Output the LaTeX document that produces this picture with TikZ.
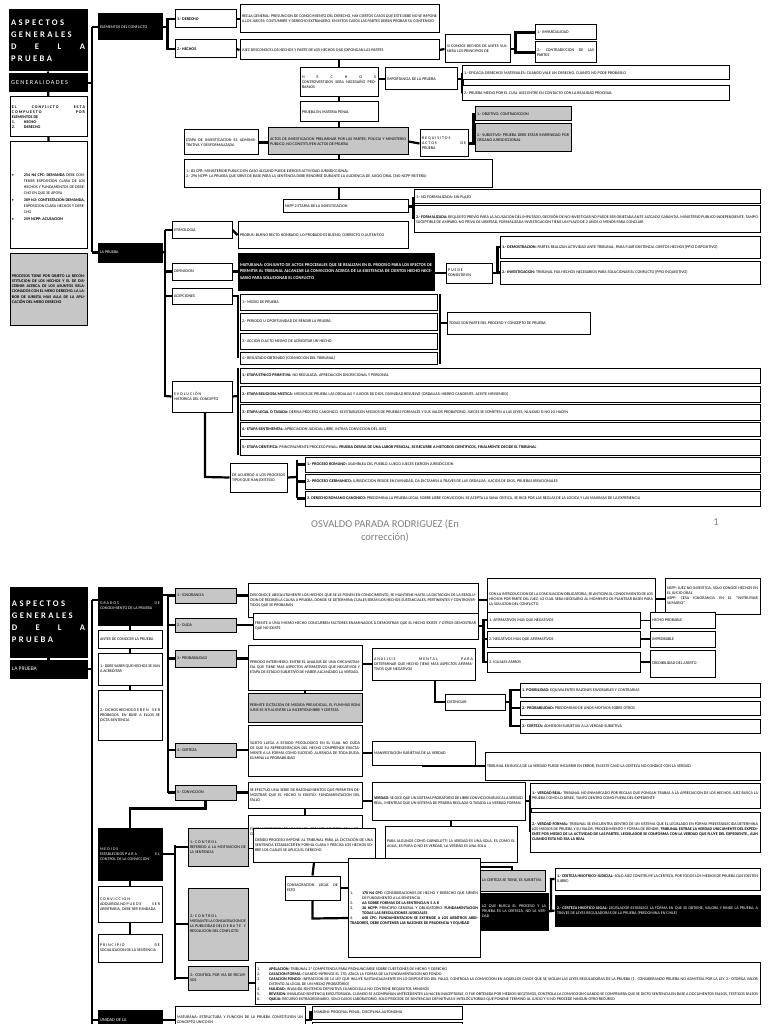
\documentclass[tikz,border=0pt]{standalone}
\usepackage{fontspec}
\setmainfont{Carlito}
\pgfdeclarelayer{back}\pgfdeclarelayer{bg}
\pgfsetlayers{back,bg,main}
\newcommand\itm[2]{\par\noindent\hangindent=12pt\hangafter=1\makebox[12pt][l]{#1}#2}
\newcommand\ttl{\addfontfeatures{LetterSpace=28}ASPECTOS\\ GENERALES\\ D\hfill E\hfill L\hfill A\\ PRUEBA}
\begin{document}
\begin{tikzpicture}[x=1pt,y=-1pt,
 box/.style={draw,line width=1pt,fill=white,inner xsep=2pt,inner ysep=1pt,align=justify,font=\fontsize{4.1}{5}\selectfont},
 blk/.style={fill=black,text=white},
 gry/.style={fill=gray!45},
 big/.style={font=\fontsize{8.6}{12}\selectfont\bfseries,align=left},
 cn/.style={line width=2.2pt,black}]
\useasboundingbox (0,0) rectangle (768,1024);
\begin{pgfonlayer}{back}\fill[white] (0,0) rectangle (768,1024);\end{pgfonlayer}
\newcommand\bx[7][]{\pgfmathsetmacro\bw{#5-#3}\pgfmathsetmacro\bh{#6-#4}\pgfmathsetmacro\tw{#5-#3-4}%
 \node[box,#1,minimum width=\bw pt,minimum height=\bh pt,text width=\tw pt] (#2) at ({(#3+#5)/2},{(#4+#6)/2}) {#7};}
\newcommand\lr[2]{\draw[cn] (#1.east) -- ++(5,0) |- (#2.west);}
\newcommand\tb[2]{\draw[cn] (#1.south) -- (#1.south |- #2.north);}
% PAGE 1 boxes
\bx[blk,big]{t1}{9}{10}{87}{71}{\ttl}
\bx[blk,font=\fontsize{6.2}{7}\selectfont\addfontfeatures{LetterSpace=20}]{gen}{9}{74}{87}{92}{GENERALIDADES}
\bx[font=\fontsize{4.1}{5}\selectfont\bfseries]{conf}{10}{97}{87}{137}{E L \hfill C O N F L I C T O \hfill E S T A\\ C O M P U E S T O \hfill P O R\\ ELEMENTOS DE\itm{1.}{HECHO}\itm{2.}{DERECHO}}
\bx[font=\fontsize{4.1}{6.3}\selectfont]{art}{10}{142}{87}{248}{\itm{•}{\textbf{254 N4 CPC: DEMANDA} DEBE CONTENER EXPOSICION CLARA DE LOS HECHOS Y FUNDAMENTOS DE DERECHO EN QUE SE APOYA}\itm{•}{\textbf{309 N3: CONTESTACION DEMANDA,} EXPOSICION CLARA HECHOS Y DERECHO}\itm{•}{\textbf{259 NCPP: ACUSACION}}}
\bx[gry,font=\fontsize{4.1}{5.3}\selectfont\bfseries]{proc}{10}{253}{87}{325}{PROCESOS TIENE POR OBJETO LA RECONSTITUCION DE LOS HECHOS Y EL DE DISCERNIR ACERCA DE LOS ASUNTOS RELACIONADOS CON EL MERO DERECHO, LA LABOR DE JURISTA MAS ALLA DE LA APLICACIÓN DEL MERO DERECHO}
\bx[blk]{elem}{98}{14}{162}{40}{ELEMENTOS DEL CONFLICTO}
\bx[blk]{lap}{98}{243}{162}{262}{LA PRUEBA}
\bx{der}{175}{10}{236}{28}{\textbf{1.- DERECHO}}
\bx{hec}{175}{40}{236}{58}{\textbf{2.- HECHOS}}
\bx{regla}{240}{5}{439}{33}{REGLA GENERAL: PRESUNCION DE CONOCIMIENTO DEL DERECHO, HAY CIERTOS CASOS QUE ESTE DEBE NO SE IMPONE A LOS JUECES: COSTUMBRE Y DERECHO EXTRANJERO, EN ESTOS CASOS LAS PARTES DEBEN PROBAR SU CONTENIDO}
\bx{juez}{240}{40}{439}{60}{JUEZ DESCONOCE LOS HECHOS Y PARTE DE LOS HECHOS QUE EXPONGAN LAS PARTES}
\bx{sic}{445}{35}{510}{63}{SI CONOCE HECHOS DE ANTES VULNERA LOS PRINCIPIOS DE}
\bx{imp}{535}{25}{596}{40}{1.- IMPARCIALIDAD}
\bx{con}{535}{42}{596}{63}{2.- CONTRADICCION DE LAS PARTES}
\bx{hcon}{300}{68}{378}{97}{H \hfill E \hfill C \hfill H \hfill O \hfill S\\ CONTROVERTIDOS SERA NECESARIO PROBARLOS}
\bx{impo}{385}{68}{457}{90}{IMPORTANCIA DE LA PRUEBA}
\bx{efi}{462}{66}{729}{80}{1.- EFICACIA DERECHOS MATERIALES: CUANDO VALE UN DERECHO, CUANTO NO PODE PROBARLO}
\bx{med}{462}{86}{729}{101}{2.- PRUEBA MEDIO POR EL CUAL JUEZ ENTRE EN CONTACTO CON LA REALIDAD PROCESAL}
\bx{pmp}{300}{102}{378}{122}{PRUEBA EN MATERIA PENAL}
\bx{etapa}{184}{130}{258}{155}{ETAPA DE INVESTIGACION ES ADMINISTRATIVA Y DESFORMALIZADA}
\bx[gry]{actos}{268}{128}{408}{155}{ACTOS DE INVESTIGACION PRELIMINAR POR LAS PARTES, POLICIA Y MINISTERIO PUBLICO, NO CONSTITUYEN ACTOS DE PRUEBA}
\bx{req}{420}{130}{468}{157}{R E Q U I S I T O S\\ A C T O S \hfill D E\\ PRUEBA}
\bx[gry]{obj}{475}{107}{571}{121}{1.- OBJETIVO: CONTRADICCION}
\bx[gry]{sub}{475}{124}{571}{152}{2.- SUBJETIVO: PRUEBA DEBE ESTAR INVERNIDAD POR ORGANO JURISDICCIONAL}
\bx{cpr}{184}{160}{492}{188}{1.- 83 CPR: MINISTERIOR PUBLICO EN CASO ALGUNO PUEDE EJERCER ACTIVIDAD JURISDICCIONAL\\ 2.- 296 NCPP: LA PRUEBA QUE SIRVE DE BASE PARA LA SENTENCIA DEBE RENDIRSE DURANTE LA AUDIENCIA DE JUICIO ORAL (340 NCPP REITERA)}
\bx{nspp}{283}{200}{408}{213}{NSPP 2 ETAPAS DE LA INVESTIGACION}
\bx{nof}{414}{190}{760}{204}{1.- NO FORMALIZADA: SIN PLAZO}
\bx{for}{414}{206}{760}{233}{\textbf{2.- FORMALIZADA:} REQUISITO PREVIO PARA LA ACUSACION DEL IMPUTADO, DECISIÓN DE NO INVESTIGAR NO PUEDE SER OBJETADA ANTE JUZGADO GARANTIA, MINISTERIO PUBLICO INDEPENDIENTE, TAMPO SUCEPTIBLE DE AMPARO, NO PRIVA DE LIBERTAD, FORMALIZADA INVESTIGACION TIENE UN PLAZO DE 2 AÑOS O MENOS PARA CONCLUIR}
\bx{eti}{172}{222}{232}{238}{ETIMOLOGIA}
\bx{probus}{238}{222}{408}{248}{PROBUS: BUENO RECTO HONRADO, LO PROBADO ES BUENO, CORRECTO O AUTENTICO}
\bx{def}{172}{263}{232}{280}{DEFINICION}
\bx[blk,font=\fontsize{4.4}{6.6}\selectfont\bfseries]{mat}{238}{253}{434}{290}{MATURANA: CONJUNTO DE ACTOS PROCESALES QUE SE REALIZAN EN EL PROCESO PARA LOS EFECTOS DE PERMITIR AL TRIBUNAL ALCANZAR LA CONVICCION ACERCA DE LA EXISTENCIA DE CIERTOS HECHO NECESARIO PARA SOLUCIONAR EL CONFLICTO}
\bx{puede}{446}{263}{492}{283}{P U E D E\\ CONSISTIR EN}
\bx{dem}{500}{236}{760}{258}{\textbf{1.- DEMOSTRACION:} PARTES REALIZAN ACTIVIDAD ANTE TRIBUNAL, PARA FIJAR EXISTENCIA CIERTOS HECHOS (PPIO DISPOSITIVO)}
\bx{inv}{500}{261}{760}{284}{\textbf{2.- INVESTIGACION:} TRIBUNAL FIJA HECHOS NECESARIOS PARA SOLUCIONAR EL CONFLICTO (PPIO INQUISITIVO)}
\bx{acep}{172}{288}{232}{304}{ACEPCIONES}
\bx{a1}{240}{294}{437}{310}{1.- MEDIO DE PRUEBA}
\bx{a2}{240}{313}{437}{330}{2.- PERIODO U OPORTUNIDAD DE RENDIR LA PRUEBA}
\bx{a3}{240}{333}{437}{349}{3.- ACCION O ACTO MISMO DE ACREDITAR UN HECHO}
\bx{a4}{240}{352}{437}{364}{4.- RESULTADO OBTENIDO (CONVICCION DEL TRIBUNAL)}
\bx{todas}{447}{312}{590}{334}{TODAS SON PARTE DEL PROCESO Y CONCEPTO DE PRUEBA}
\bx{evo}{172}{381}{232}{412}{E V O L U C I Ó N\\ HISTORICA DEL CONCEPTO}
\bx{e1}{240}{368}{760}{383}{\textbf{1.- ETAPA ETNICO PRIMITIVA:} NO REGULADA, APRECIACION DISCRECIONAL Y PERSONAL}
\bx{e2}{240}{386}{760}{402}{\textbf{2.- ETAPA RELIGIOSA MISTICA:} MEDIOS DE PRUEBA LAS ORDALIAS Y JUICIOS DE DIOS, DIVINIDAD RESUELVE (ORDALIAS: HIERRO CANDENTE, ACEITE HIRVIENDO)}
\bx{e3}{240}{404}{760}{420}{\textbf{3.- ETAPA LEGAL O TASADA:} DERIVA PROCESO CANONICO, SE ESTABLECEN MEDIOS DE PRUEBAS FORMALES Y SUS VALOR PROBATORIO, JUECES SE SOMETEN A LAS LEYES, NULIDAD SI NO LO HACEN}
\bx{e4}{240}{422}{760}{436}{\textbf{4.- ETAPA SENTIMENTAL:} APRECIACION JUDICIAL LIBRE, INTIMA CONVICCION DEL JUEZ}
\bx{e5}{240}{439}{760}{455}{\textbf{5.- ETAPA CIENTIFICA:} PRINCIPALMENTE PROCESO PENAL: \textbf{PRUEBA DERIVA DE UNA LABOR PERICIAL, SE RECURRE A METODOS CIENTIFICOS, FINALMENTE DECIDE EL TRIBUNAL}}
\bx{acu}{230}{463}{287}{492}{DE ACUERDO A LOS PROCESOS TIPOS QUE HAN EXISTIDO}
\bx{p1}{305}{457}{760}{472}{\textbf{1.- PROCESO ROMANO:} ASAMBLEA DEL PUEBLO, LUEGO JUECES EJERCEN JURISDICCION}
\bx{p2}{305}{474}{760}{489}{\textbf{2.- PROCESO GERMANICO:} JURISDICCION RESIDE EN DIVINIDAD, DA DICTAMEN A TRAVES DE LAS ORDALIAS, JUICIOS DE DIOS, PRUEBAS IRRACIONALES}
\bx{p3}{305}{491}{760}{506}{\textbf{3. DERECHO ROMANO CANONICO:} PREDOMINA LA PRUEBA LEGAL SOBRE LIBRE CONVICCION, SE ACEPTA LA SANA CRITICA, SE RIGE POR LAS REGLAS DE LA LOGICA Y LAS MAXIMAS DE LA EXPERIENCIA}
\node[text=gray,font=\fontsize{10.5}{12.5}\selectfont,align=center] (foot) at (385,531) {OSVALDO PARADA RODRIGUEZ (En\\ corrección)};
\node[text=gray,font=\fontsize{10.5}{12}\selectfont] (pg) at (716,522) {1};
% PAGE 2 boxes
\bx[blk,big]{t2}{10}{587}{87}{657}{\ttl}
\bx[blk,font=\fontsize{5.5}{7}\selectfont]{lap2}{10}{660}{87}{678}{LA PRUEBA}
\bx[blk]{grados}{98}{587}{162}{625}{G R A D O S \hfill D E\\ CONOCIMIENTO DE LA PRUEBA}
\bx{antes}{98}{630}{162}{648}{ANTES DE CONOCER LA PRUEBA}
\bx{debe}{98}{653}{162}{685}{1.- DEBE SABER QUE HECHOS SE VAN A ACREDITAR}
\bx{dichos}{98}{690}{162}{740}{2.- DICHOS HECHOS D E B E N \hfill S E R\\ PROBADOS, EN BASE A ELLOS SE DICTA SENTENCIA}
\bx[gry]{ign}{175}{588}{236}{603}{1.- IGNORANCIA}
\bx[gry]{duda}{175}{618}{236}{632}{2.- DUDA}
\bx[gry]{prob}{175}{650}{236}{667}{3.- PROBABILIDAD}
\bx[gry]{cert}{175}{743}{236}{757}{4.- CERTEZA}
\bx[gry]{conv}{175}{785}{236}{800}{5.- CONVICCION}
\bx{desc}{248}{583}{478}{617}{DESCONOCE ABSOLUTAMENTE LOS HECHOS QUE SE LE PONEN EN CONOCIMIENTO, SE MANTIENE HASTA LA DICTACION DE LA RESOLUCION DE RECIBIR LA CAUSA A PRUEBA, DONDE SE DETERMINA CUALES SERAN LOS HECHOS SUSTANCIALES, PERTINENTES Y CONTROVERTIDOS QUE SE PROBARAN}
\bx{intro}{487}{578}{655}{620}{CON LA INTRODUCCION DE LA CONCILIACION OBLIGATORIA, SE ANTICIPA EL CONOCIMIENTO DE LOS HECHOS POR PARTE DEL JUEZ, LO CUAL SERA NECESARIO AL MOMENTO DE PLANTEAR BASES PARA LA SOLUCION DEL CONFLICTO}
\bx{nsp2}{665}{578}{760}{614}{NSPP: JUEZ NO INVESTIGA, SOLO CONOCE HECHOS EN EL JUICIO ORAL\\ ASPP: CESA IGNORANCIA EN EL ``INSTRUYASE SUMARIO''}
\bx{frente}{253}{613}{478}{639}{FRENTE A UNA MISMO HECHO CONCURREN FACTORES ENAMINADOS A DEMOSTRAR QUE EL HECHO EXISTE Y OTROS DEMOSTRAR QUE NO EXISTE}
\bx{af}{487}{612}{640}{628}{1. AFIRMATIVOS MAS QUE NEGATIVOS}
\bx{ne}{487}{631}{640}{647}{2. NEGATIVOS MAS QUE AFIRMATIVOS}
\bx{ig}{487}{652}{640}{672}{3. IGUALES AMBOS}
\bx{hp}{650}{612}{715}{628}{HECHO PROBABLE}
\bx{impr}{650}{631}{715}{647}{IMPROBABLE}
\bx{cred}{650}{650}{715}{677}{CREDIBILIDAD DEL ASERTO}
\bx{per}{248}{645}{362}{690}{PERIODO INTERMEDIO, ENTRE EL ANALISIS DE UNA CIRCUNSTANCIA QUE TIENE MAS ASPECTOS AFIRMATIVOS QUE NEGATIVOS Y ETAPA DE ESTADO SUBJETIVO DE HABER ALCANZADO LA VERDAD.}
\bx{anal}{372}{648}{475}{680}{A N A L I S I S \hfill M E N T A L \hfill P A R A\\ DETERMINAR QUE HECHO TIENE MAS ASPECTOS AFIRMATIVOS QUE NEGATIVOS}
\bx[gry]{permite}{248}{693}{362}{722}{PERMITE DICTACION DE MEDIDA PREJUDICIAL, EL FUMMUS BONI IURIS SE SITUA ENTRE LA INCERTIDUMBRE Y CERTEZA}
\bx{dist}{445}{694}{505}{710}{DISTINGUIR}
\bx{pos}{520}{683}{760}{697}{\textbf{1. POSIBILIDAD:} EQUIVALENTES RAZONES FAVORABLES Y CONTRARIAS}
\bx{prb}{520}{701}{760}{715}{\textbf{2.- PROBABILIDAD:} PREDOMINIO DE UNOS MOTIVOS SOBRE OTROS}
\bx{cer}{520}{719}{760}{733}{\textbf{3.- CERTEZA:} ADHESION SUBJETIVA A LA VERDAD SUBJETIVA}
\bx{suj}{248}{725}{362}{776}{SUJETO LLEGA A ESTADO PSICOLOGICO EN EL CUAL NO DUDA DE QUE SU REPRESENTACION DEL HECHO COMPRENDE EXACTAMENTE A LA FORMA COMO SUCEDIÓ. AUSENCIA DE TODA DUDA, ELIMINA LA PROBABILIDAD}
\bx{manif}{372}{741}{475}{765}{MANIFESTACION SUBJETIVA DE LA VERDAD}
\bx{trib}{485}{752}{760}{780}{TRIBUNAL EN BUSCA DE LA VERDAD PUEDE INCURRIR EN ERROR, EN ESTE CASO LA CERTEZA NO CONDICE CON LA VERDAD}
\bx{efec}{248}{782}{362}{808}{SE EFECTUO UNA SERIE DE RAZONAMIENTOS QUE PERMITEN DEMOSTRAR QUE EL HECHO SI EXISTIO. FUNDAMENTACION DEL FALLO}
\bx{fund}{248}{815}{362}{848}{FUNDAMENTACION DE LOS FALLOS, PERMITE CONTROL DE LA SOCIEDAD POR MEDIO DE SU PUBLICIDAD (CONSIDERANDOS)}
\bx{verd}{372}{782}{525}{820}{\textbf{VERDAD:} SE DICE QUE UN SISTEMA PROBATORIO DE LIBRE CONVICCION BUSCA LA VERDAD REAL, MIENTRAS QUE UN SISTEMA DE PRUEBA REGLADA O TASADA LA VERDAD FORMAL}
\bx{vreal}{530}{783}{760}{808}{\textbf{1.- VERDAD REAL:} TRIBUNAL NO ENMARCADO POR REGLAS QUE PONGAN TRABAS A LA APRECIACION DE LOS HECHOS, JUEZ BUSCA LA PRUEBA COMO LO DESEE, TANTO DENTRO COMO FUERA DEL EXPEDIENTE}
\bx{vform}{530}{812}{760}{852}{\textbf{2.- VERDAD FORMAL:} TRIBUNAL SE ENCUENTRA DENTRO DE UN SISTEMA QUE EL LEGISLADO EN FORMA PREESTABLECIDA DETERMINA LOS MEDIOS DE PRUEBA Y SU VALOR, PROCEDIMIENTO Y FORMA DE RENDIR. \textbf{TRIBUNAL EXTRAE LA VERDAD UNICAMENTE DEL EXPEDIENTE POR MEDIO DE LA ACTIVIDAD DE LAS PARTES, LEGISLADOR SE CONFORMA CON LA VERDAD QUE FLUYE DEL EXPEDIENTE., AUN CUANDO ESTA NO SEA LA REAL}}
\bx{carn}{385}{826}{517}{862}{PARA ALGUNOS COMO CARNELUTTI LA VERDAD ES UNA SOLA, ES COMO EL AGUA, ES PURA O NO ES VERDAD, LA VERDAD ES UNA SOLA}
\bx{noset}{385}{870}{475}{890}{LA VERDAD ES, NO SE TIENE. Y ES INACCESIBLE, ES OBJETIVO}
\bx[gry]{seti}{480}{870}{545}{891}{LA CERTEZA SE TIENE, ES SUBJETIVA}
\bx[blk]{busca}{480}{893}{548}{930}{LO QUE BUSCA EL PROCESO Y LA PRUEBA ES LA CERTEZA, NO LA VERDAD}
\bx{chj}{555}{868}{760}{890}{\textbf{1.- CERTEZA HISOTRICO-JUDICIAL:} SOLO JUEZ CONSTRUYE LA CERTEZA, POR TODOS LOS MEDIOS DE PRUEBA QUE EXISTEN (LIBRE)}
\bx[blk]{chl}{555}{895}{760}{926}{\textbf{2.- CERTEZA HISOTICO LEGAL:} LEGISLADOR ESTABLECE LA FORMA EN QUE SE OBTIENE, VALORA Y RINDE LA PRUEBA, A TRAVES DE LEYES REGULADORAS DE LA PRUEBA (PREDOMINA EN CHILE)}
\bx[blk]{medios}{98}{828}{162}{880}{M E D I O S\\ ESTABLECIDOS P A R A \hfill E L\\ CONTROL DE LA CONVICCION}
\bx{cadq}{98}{886}{162}{922}{C O N V I C C I O N\\ ADQUIRIDA NO P U E D E \hfill S E R\\ ARBITRARIA, DEBE SER FUNDADA}
\bx{princ}{98}{934}{162}{962}{P R I N C I P I O \hfill D E\\ SOCIALIZACION DE LA SENTENCIA}
\bx[gry]{c1}{188}{828}{248}{866}{1.- C O N T R O L\\ REFERIDO A LA MOTIVACION DE LA SENTENCIA}
\bx[gry]{c3}{188}{888}{248}{960}{3.- C O N T R O L\\ MEDIANTE LA CONSAGRACION DE LA PUBLICIDAD DEL D E B A T E \hfill Y\\ RESOLUCION DEL CONFLICTO}
\bx[gry]{c2}{188}{966}{248}{990}{2.- CONTROL POR VIA DE RECURSOS}
\bx{debido}{253}{828}{375}{862}{DEBIDO PROCESO IMPONE AL TRIBUNAL PARA LA DICTACION DE UNA SENTENCIA ESTABLECER EN FORMA CLARA Y PRECISA LOS HECHOS SOBRE LOS CUALES SE APLICA EL DERECHO}
\bx{consag}{285}{876}{340}{900}{CONSAGRACION LEGAL DE ESTO}
\bx{lista}{348}{858}{480}{957}{\itm{1.}{\textbf{170 N4 CPC:} CONSIDERACIONES DE HECHO Y DERECHO QUE SIRVEN DE FUNDAMENTO A LA SENTENCIA}\itm{2.}{\textbf{AA SOBRE FORMAS DE LA SENTENCIA N 5 A 8}}\itm{3.}{\textbf{36 NCPP:} PRINCIPIO GENERAL Y OBLIGATORIO. \textbf{FUNDAMENTACION TODAS LAS RESOLUCIONES JUDICIALES}}\itm{4.}{\textbf{640 CPC: FUNDAMENTACION SE EXTIENDE A LOS ARBITROS ARBITRADORES, DEBE CONTENER LAS RAZONES DE PRUDENCIA Y EQUIDAD}}}
\bx{recur}{255}{962}{760}{1004}{\itm{1.}{\textbf{APELACION:} TRIBUNAL 2ª COMPETENCIA PARA PRONUNCIARSE SOBRE CUESTIONES DE HECHO Y DERECHO}\itm{2.}{\textbf{CASACION FORMA:} CUANDO INFRINGE EL 170, ATACA LA FORMA DE LA FUNDAMENTACION NO FONDO}\itm{3.}{\textbf{CASACION FONDO:} INFRACCION DE LA LEY QUE INLUYE SUSTANCIALMENTE EN LO DISPOSITIVO DEL FALLO, CONTROLA LA CONVICCION EN AQUELLOS CASOS QUE SE VIOLAN LAS LEYES REGULADORAS DE LA PRUEBA (1. CONSIDERANDO PRUEBA NO ADMITIDA POR LA LEY, 2.- OTORGA VALOR DISTINTO AL LEGAL DE UN MEDIO PROBATORIO)}\itm{4.}{\textbf{NULIDAD:} INVALIDA SENTENCIA DEFINITIVA CUANDO ELLA NO CONTIENE REQUISITOS MINIMOS}\itm{5.}{\textbf{REVISION:} INVALIDAD SENTENCIA EJECUTORIADA, CUANDO SE ACOMPAÑAN ANTECEDENTES LA HACEN INACEPTABLE, O FUE OBTENIDA POR MEDIOS ILEGITIMOS, CONTROLA LA CONVICCION CUANDO SE COMPRUEBA QUE SE DICTO SENTENCIA EN BASE A DOCUMENTOS FALSOS, TESTIGOS FALSOS}\itm{6.}{\textbf{QUEJA:} RECURSO EXTRAORDINARIO, SOLO CASOS LABORATORIO, SOLO PROCEDE DE SENTENCIAS DEFINITIVAS E INTELOCUTORIAS QUE PONENE TERMINO AL JUICIO Y SI NO PROCEDE NINGUN OTRO RECURSO}}
\bx[blk,font=\fontsize{4.5}{6}\selectfont]{unidad}{98}{1010}{162}{1030}{UNIDAD DE LA}
\bx{mat2}{175}{1006}{305}{1034}{MATURANA: ESTRUCTURA Y FUNCION DE LA PRUEBA CONSTITUYEN UN CONCEPTO UNICO EN}
\bx{manz}{312}{1006}{462}{1019}{MANZINI: PROCESAL PENAL, DISCIPLINA AUTONOMA}
\bx{otro}{312}{1022}{462}{1040}{}
% ===== connectors on bg layer
\begin{pgfonlayer}{bg}
\draw[cn] (92,27) -- (92,252);
\draw[cn] (t1.south) -- (art.north);
\draw[cn] (gen.east) -- (92,83);
\draw[cn] (elem.east) -- (92,0|-elem.east);
\draw[cn] (lap.west) -- (92,0|-lap.west);
\lr{elem}{der}\lr{elem}{hec}
\draw[cn] (der.east) -- (regla.west); \draw[cn] (hec.east) -- (juez.west);
\draw[cn] (juez.east) -- (sic.west);
\lr{sic}{imp}\lr{sic}{con}
\draw[cn] (339,60) -- (339,200);
\draw[cn] (hcon.east|-impo) -- (impo.west);
\lr{impo}{efi}\lr{impo}{med}
\draw[cn] (etapa.east) -- (actos.west|-etapa);
\draw[cn] (actos.east) -- (req.west);
\lr{req}{obj}\lr{req}{sub}
\lr{nspp}{nof}\lr{nspp}{for}
\draw[cn] (165,230) -- (165,397);
\draw[cn] (lap.east) -- (165,252);
\draw[cn] (165,230) -- (eti.west);
\draw[cn] (eti.east) -- (probus.west);
\draw[cn] (165,271.5) -- (def.west);
\draw[cn] (def.east) -- (mat.west|-def);
\draw[cn] (mat.east|-puede) -- (puede.west);
\lr{puede}{dem}\lr{puede}{inv}
\draw[cn] (165,296) -- (acep.west);
\draw[cn] (acep.east) -- (238,296) -- (238,0|-a4.west);
\draw[cn] (440,294) -- (440,364);
\draw[cn] (440,323) -- (todas.west);
\draw[cn] (165,396) -- (evo.west);
\draw[cn] (evo.east) -- (238,396);
\draw[cn] (238,368) -- (238,455);
\draw[cn] (205,412) -- (205,477) -- (acu.west);
\draw[cn] (acu.east) -- (297,477);
\draw[cn] (297,460) -- (297,498);
\foreach \p in {p1,p2,p3} \draw[cn] (297,0|-\p.west) -- (\p.west);
% page 2
\draw[cn] (92,600) -- (92,1024);
\draw[cn] (168,595) -- (168,793);
\draw[cn] (175,845) -- (175,980);
\draw[cn] (lap2.east) -- (92,669);
\draw[cn] (t2.south) -- (lap2.north);
\draw[cn] (92,600) -- (98,600);
\tb{grados}{antes}\tb{antes}{debe}\tb{debe}{dichos}
\draw[cn] (grados.east|-168,595) -- (168,595);
\foreach \g in {ign,duda,prob,cert,conv} \draw[cn] (168,0|-\g.west) -- (\g.west);
\draw[cn] (ign.east) -- (desc.west|-ign); \draw[cn] (desc.east) -- (intro.west|-desc); \draw[cn] (intro.east) -- (nsp2.west|-intro);
\draw[cn] (duda.east) -- (frente.west|-duda);
\lr{frente}{af}\lr{frente}{ne}\lr{frente}{ig}
\draw[cn] (af.east) -- (hp.west); \draw[cn] (ne.east) -- (impr.west); \draw[cn] (ig.east) -- (cred.west|-ig);
\draw[cn] (prob.east) -- (per.west|-prob); \draw[cn] (per.east|-anal) -- (anal.west);
\tb{per}{permite}
\draw[cn] (435,680) -- (435,702) -- (dist.west);
\lr{dist}{pos}\lr{dist}{prb}\lr{dist}{cer}
\draw[cn] (cert.east) -- (suj.west|-cert);
\draw[cn] (suj.east|-manif) -- (manif.west);
\draw[cn] (manif.south) |- (trib.west);
\draw[cn] (conv.east) -- (efec.west|-conv); \tb{efec}{fund}
\draw[cn] (efec.east|-verd) -- (verd.west);
\lr{verd}{vreal}\lr{verd}{vform}
\draw[cn] (451,820) -- (451,826);
\draw[cn] (451,862) -- (451,867) -- (430,867) -- (430,870);
\draw[cn] (451,867) -- (512,867) -- (512,870);
\draw[cn] (busca.east) -- (551,911) |- (chj.west); \draw[cn] (551,911) -- (chl.west);
\draw[cn] (conv.south) -- ++(0,8) -| (medios.north);
\tb{medios}{cadq}\tb{cadq}{princ}
\draw[cn] (medios.east) -- (175,854);
\foreach \c in {c1,c3,c2} \draw[cn] (175,0|-\c.west) -- (\c.west);
\draw[cn] (c1.east) -- (debido.west|-c1);
\draw[cn] (debido.south-|314,0) -- (consag.north);
\draw[cn] (consag.east) -- (lista.west|-consag);
\draw[cn] (consag.south) -- ++(0,18) -- (348,918);
\draw[cn] (c2.south) |- (recur.west);
\draw[cn] (92,1020) -- (98,1020);
\draw[cn] (unidad.east|-mat2) -- (mat2.west);
\lr{mat2}{manz}
\end{pgfonlayer}
\end{tikzpicture}
\end{document}
